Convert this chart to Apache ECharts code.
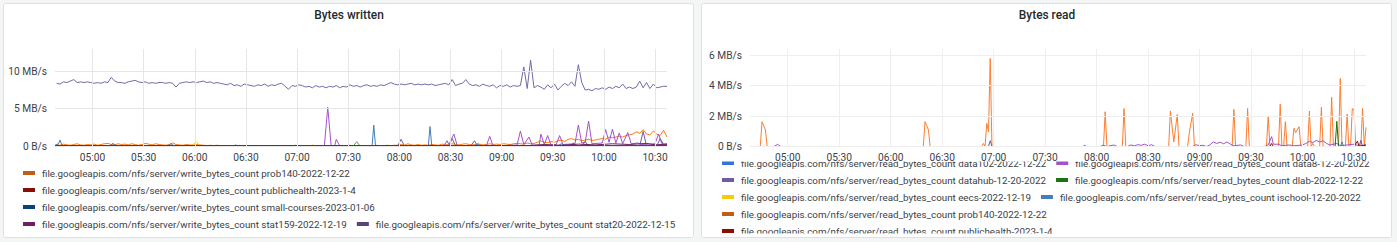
<!DOCTYPE html>
<html><head><meta charset="utf-8">
<script src="https://cdn.jsdelivr.net/npm/echarts@6/dist/echarts.min.js"></script>
<style>html,body{margin:0;padding:0;background:#f4f5f5;}#c{width:1397px;height:242px;}</style>
</head><body><div id="c"></div>
<script>
// ---------- data ----------
const W = 'file.googleapis.com/nfs/server/write_bytes_count ';
const R = 'file.googleapis.com/nfs/server/read_bytes_count ';
const axisStart = '04:38', axisEnd = '10:37';
const regularStart = '04:39', regularStepMin = 2;
const xTickLabels = ['05:00','05:30','06:00','06:30','07:00','07:30','08:00','08:30','09:00','09:30','10:00','10:30'];
const writeTicks = [0, 5, 10];
const readTicks = [0, 2, 4, 6];

// stat20 write rate (MB/s), every 2 min from 04:39
const stat20Write = [
 8.4,8.3,8.6,8.5,8.7,8.9,8.5,8.6,8.5,8.6,
 8.5,8.4,8.5,8.4,8.6,8.5,9.2,8.7,8.5,8.5,
 8.4,8.6,8.7,8.8,8.6,8.5,8.6,8.4,8.5,8.4,
 8.5,8.5,8.4,8.5,8.4,7.9,8.4,8.5,8.6,8.5,
 8.6,8.5,8.6,8.7,8.5,8.6,8.4,8.5,8.4,8.3,
 8.2,8.4,8.1,8.2,8.0,8.3,8.2,8.1,8.0,8.2,
 8.1,8.3,8.0,8.2,8.1,8.3,8.4,8.0,7.6,8.1,
 8.0,8.2,8.1,7.9,8.0,7.8,8.1,7.9,8.0,7.8,
 8.0,7.9,8.1,7.8,8.0,7.9,8.2,8.0,8.1,7.9,
 8.1,8.2,8.0,8.1,8.0,8.2,8.1,8.3,8.5,8.3,
 8.2,8.3,8.2,8.3,8.4,8.2,8.3,8.2,8.3,8.2,
 8.3,8.1,8.2,8.3,8.4,8.2,8.9,8.1,8.3,8.4,
 8.9,8.3,8.1,8.2,8.0,8.3,8.1,8.0,8.2,7.8,
 8.1,8.0,8.2,7.9,8.1,8.0,8.1,10.6,7.7,11.5,
 7.8,8.1,7.9,7.6,8.2,7.8,8.3,7.5,8.0,8.4,
 8.1,8.6,8.0,10.9,8.5,7.5,7.6,7.4,7.7,7.6,
 7.8,7.6,7.9,7.7,8.0,7.8,8.3,7.7,7.9,7.7,
 7.9,8.7,7.8,8.5,7.7,8.3,7.8,7.9,8.0,8.0
];
// orange write series (MB/s), every 2 min from 04:39
const orangeWrite = [
 0.2,0.1,0.25,0.15,0.1,0.2,0.3,0.15,0.1,0.2,0.15,0.25,0.1,0.2,0.3,0.35,0.2,0.15,0.3,0.2,
 0.25,0.15,0.3,0.2,0.1,0.2,0.35,0.25,0.15,0.3,0.2,0.15,0.1,0.2,0.4,0.2,0.15,0.1,0.2,0.15,
 0.1,0.2,0.15,0.1,0.05,0.1,0.05,0.1,0.05,0,0.05,0,0.05,0,0,0.05,0,0,0.05,0,
 0,0.05,0,0,0.05,0,0,0.05,0,0,0,0.05,0,0,0.05,0,0,0.05,0,0,
 0,0.05,0,0,0.05,0,0.1,0,0.05,0,0,0.05,0,0,0.1,0,0.05,0.1,0.05,0.1,
 0.1,0.2,0.1,0.3,0.15,0.1,0.2,0.1,0.15,0.1,0.2,0.15,0.1,0.25,0.2,0.15,0.3,0.2,0.15,0.25,
 0.3,0.2,0.15,0.2,0.25,0.15,0.2,0.3,0.2,0.25,0.2,0.3,0.25,0.2,0.3,0.35,0.3,0.25,0.4,0.3,
 0.35,0.5,0.7,0.5,0.45,0.6,0.5,0.7,0.8,0.6,0.9,1.0,0.8,0.9,0.7,0.8,0.9,0.75,0.8,0.9,
 1.0,0.9,1.2,1.1,1.2,1.3,1.2,1.4,1.5,1.6,1.9,1.7,2.2,1.6,1.5,2.0,1.6,1.4,2.1,1.2
];
const greenWrite = [['04:38',0],['07:33',0],['07:35',0.58],['07:37',0],['10:37',0]];
const eecsWrite = [['04:38',0],['05:57',0],['05:59',0.2],['06:01',0.55],['06:03',0],['06:58',0],['06:59',0.15],['07:00',0],['07:08',0],['07:09',0.15],['07:10',0],['08:29',0],['08:31',0.4],['08:33',0],['10:37',0]];
const ischoolWrite = [['04:38',0.1],['04:40',0.3],['04:41',0.8],['04:42',0.1],['04:44',0],['05:10',0],['05:12',0.35],['05:14',0],['05:44',0],['05:46',0.3],['05:48',0],['06:23',0],['06:24',0.15],['06:25',0],['07:44',0],['07:45',2.8],['07:46',0],['08:17',0],['08:18',2.6],['08:19',0],['08:44',0],['08:46',0.3],['08:48',0],['09:33',0],['09:35',0.3],['09:37',0],['10:37',0]];
const data8Write = [['04:38',0],['07:16',0],['07:18',5.2],['07:20',0],['07:22',0],['07:23',0.9],['07:25',0],
 ['08:26',0],['08:28',0.7],['08:29',0.2],['08:32',1.6],['08:34',0],['08:51',0],['08:53',1.3],['08:55',0],
 ['09:09',0.1],['09:11',2.0],['09:13',0.2],['09:16',1.2],['09:18',0.1],['09:22',0.1],['09:23',1.6],['09:25',0.2],['09:27',1.4],['09:29',0.1],
 ['09:32',0.2],['09:34',1.4],['09:36',0.2],['09:43',0.3],['09:45',2.8],['09:47',0.4],['09:49',0.5],['09:51',3.35],['09:53',0.3],
 ['09:59',0.4],['10:01',2.2],['10:03',0.5],['10:05',2.25],['10:07',0.4],['10:09',1.75],['10:11',0.3],['10:14',1.8],['10:16',0.3],
 ['10:20',0.4],['10:22',0.2],['10:30',0.3],['10:32',1.6],['10:34',0.3],['10:37',0.2]];
const datahubWrite = [['04:38',0],['07:59',0],['08:01',0.9],['08:03',0],['08:29',0],['08:31',1.0],['08:33',0],['08:42',0],['08:44',0.7],['08:46',0],['09:40',0],['09:42',0.4],['09:44',0],['09:47',0],['09:49',0.6],['09:51',0],['10:21',0],['10:23',1.95],['10:25',0],['10:31',0],['10:33',1.0],['10:35',0.2],['10:37',0.3]];
const prob140Write = [['04:38',0],['10:37',0]];
const publichealthWrite = [['04:38',0],['10:37',0]];
const smallCoursesWrite = [['04:38',0],['10:37',0]];
const stat159Write = [['04:38',0],['08:58',0],['09:05',0.1],['09:15',0.05],['09:25',0.2],['09:35',0.1],['09:45',0.25],['09:55',0.15],['10:05',0.3],['10:15',0.2],['10:25',0.35],['10:30',0.15],['10:37',0.25]];

const orangeRead = [['04:38',0],['04:44',0],['04:45',1.63],['04:47',1.08],['04:48',0],
 ['06:19',0],['06:20',1.63],['06:22',1.08],['06:23',0],
 ['06:53',0],['06:54',0.2],['06:55',0],['06:56',1.52],['06:57',0.97],['06:58',5.78],['06:59',0],
 ['08:04',0],['08:05',2.28],['08:06',0],['08:15',0],['08:16',2.5],['08:17',0],
 ['08:42',0],['08:43',2.33],['08:45',0.3],['08:47',2.1],['08:48',0],
 ['08:53',0],['08:54',0.87],['08:56',2.18],['08:57',0],
 ['09:19',0],['09:20',2.44],['09:21',0],['09:27',0],['09:28',2.5],['09:29',0],
 ['09:39',0],['09:40',2.0],['09:41',0],['09:46',0],['09:47',2.77],['09:48',0],['09:49',0],['09:50',1.63],['09:51',0],
 ['09:54',0],['09:55',1.2],['09:56',0.9],['09:58',1.3],['09:59',0],
 ['10:03',0],['10:04',2.33],['10:05',0],['10:06',0.2],['10:07',0],
 ['10:10',0],['10:11',2.57],['10:12',0],['10:16',0],['10:17',3.23],['10:18',0],
 ['10:21',0],['10:22',4.47],['10:23',0],['10:25',0],['10:26',2.13],['10:27',0],
 ['10:28',0],['10:29',2.5],['10:30',2.4],['10:31',0],['10:34',0],['10:35',2.5],['10:36',0],['10:37',1.26]];
const data102Read = [['04:38',0],['10:37',0]];
const data8Read = [['04:38',0],['04:52',0],['04:54',0.14],['04:56',0],['08:02',0],['08:04',0.08],['08:06',0],['08:10',0.1],['08:12',0],
 ['08:18',0],['08:20',0.1],['08:22',0.05],['08:24',0.12],['08:26',0.08],['08:28',0.15],['08:30',0.05],['08:32',0.12],['08:34',0],
 ['08:56',0],['08:58',0.12],['09:00',0.05],['09:02',0.08],['09:04',0],['09:06',0.1],['09:08',0.3],['09:10',0.2],['09:12',0.28],['09:14',0.18],['09:16',0.3],['09:18',0.15],['09:20',0.05],
 ['09:24',0.1],['09:26',0],['09:38',0],['09:40',0.1],['09:42',0.65],['09:43',0.15],['09:46',0.15],['09:48',0.05],['09:52',0.1],['09:55',0.05],
 ['10:00',0.1],['10:02',0.2],['10:04',0.35],['10:06',0.25],['10:08',0.4],['10:10',0.3],['10:12',0.38],['10:14',0.2],['10:16',0.1],
 ['10:20',0.2],['10:22',0.05],['10:26',0.1],['10:30',0.15],['10:33',0.05],['10:37',0.1]];
const datahubRead = [['04:38',0],['06:57',0],['06:58',0.38],['06:59',0],['10:33',0],['10:34',0.4],['10:35',0],['10:37',0]];
const dlabRead = [['04:38',0],['10:19',0],['10:20',1.65],['10:21',0],['10:37',0]];
const eecsRead = [['04:38',0],['10:37',0]];
const ischoolRead = [['04:38',0],['07:52',0],['07:53',0.08],['07:54',0],['10:22',0],['10:23',0.3],['10:24',0],['10:37',0]];
const prob140Read = [['04:38',0],['10:37',0]];
const publichealthRead = [['04:38',0],['09:41',0],['09:42',0.2],['09:43',0],['10:30',0],['10:32',0.35],['10:33',0],['10:37',0.1]];
const smallCoursesRead = [['04:38',0],['10:37',0]];
const stat159Read = [['04:38',0],['10:37',0]];
const stat20Read = [['04:38',0],['10:37',0]];

// ---------- helpers ----------
function t(hm){const p=hm.split(':').map(Number);return new Date(2023,0,10,p[0],p[1]).getTime();}
function regular(vals){const t0=t(regularStart);return vals.map((v,i)=>[t0+i*regularStepMin*60000,v]);}
function sparse(arr){return arr.map(d=>[t(d[0]),d[1]]);}
function pad(n){return (n<10?'0':'')+n;}

const COL = {green:'#56A64B',orange:'#FF780A',data102:'#3274D9',data8:'#A352CC',datahub:'#705DA0',dlab:'#19730E',eecs:'#F2CC0C',
  ischool:'#447EBC',prob140:'#C15C17',publichealth:'#890F02',small:'#0A437C',stat159:'#6D1F62',stat20:'#584477'};

function line(name, data, color, g, strokeColor){
  return {type:'line', name, data, color, xAxisIndex:g, yAxisIndex:g, showSymbol:false, symbol:'none',
    lineStyle:{width:1, color: strokeColor || color}, itemStyle:{color}, emphasis:{disabled:true}, animation:false, z:2};
}

const series = [
  line(W+'series-1', sparse(greenWrite), COL.green, 0),
  line(W+'series-4', regular(orangeWrite), COL.orange, 0),
  line(W+'data8-12-20-2022', sparse(data8Write), COL.data8, 0),
  line(W+'datahub-12-20-2022', sparse(datahubWrite), COL.datahub, 0),
  line(W+'eecs-2022-12-19', sparse(eecsWrite), COL.eecs, 0),
  line(W+'ischool-12-20-2022', sparse(ischoolWrite), COL.ischool, 0),
  line(W+'prob140-2022-12-22', sparse(prob140Write), COL.prob140, 0),
  line(W+'publichealth-2023-1-4', sparse(publichealthWrite), COL.publichealth, 0),
  line(W+'small-courses-2023-01-06', sparse(smallCoursesWrite), COL.small, 0),
  line(W+'stat159-2022-12-19', sparse(stat159Write), COL.stat159, 0),
  line(W+'stat20-2022-12-15', regular(stat20Write), COL.stat20, 0, '#7668a6'),

  line(R+'series-4', sparse(orangeRead), COL.orange, 1, '#ff7d2e'),
  line(R+'data102-2022-12-22', sparse(data102Read), COL.data102, 1),
  line(R+'data8-12-20-2022', sparse(data8Read), COL.data8, 1),
  line(R+'datahub-12-20-2022', sparse(datahubRead), COL.datahub, 1),
  line(R+'dlab-2022-12-22', sparse(dlabRead), COL.dlab, 1),
  line(R+'eecs-2022-12-19', sparse(eecsRead), COL.eecs, 1),
  line(R+'ischool-12-20-2022', sparse(ischoolRead), COL.ischool, 1),
  line(R+'prob140-2022-12-22', sparse(prob140Read), COL.prob140, 1),
  line(R+'publichealth-2023-1-4', sparse(publichealthRead), COL.publichealth, 1),
  line(R+'small-courses-2023-01-06', sparse(smallCoursesRead), COL.small, 1),
  line(R+'stat159-2022-12-19', sparse(stat159Read), COL.stat159, 1),
  line(R+'stat20-2022-12-15', sparse(stat20Read), COL.stat20, 1)
];

const FONT = 'Roboto';
const labelColor = '#3d4248';
const xTickValues = xTickLabels.map(t);
function xAx(g){
  return {type:'value', gridIndex:g, min:t(axisStart), max:t(axisEnd),
    axisLine:{show:false}, axisTick:{show:false, customValues:xTickValues},
    splitLine:{show:true, lineStyle:{color: g===0?'#e6e6e6':'#eeeeee', width:1}},
    axisLabel:{fontSize:10.2, fontFamily:FONT, color:labelColor, margin:6, customValues:xTickValues,
      formatter:v=>{const d=new Date(v);return pad(d.getHours())+':'+pad(d.getMinutes());}},
    z:10};
}
function yAx(g, ticks, max){
  const step = ticks[1]-ticks[0];
  return {type:'value', gridIndex:g, min:0, max, interval:step,
    axisLine:{show:false}, axisTick:{show:false},
    splitLine:{show:true, showMaxLine:false, lineStyle:{color: g===0?'#e6e6e6':'#eeeeee', width:1}},
    axisLabel:{fontSize:10.2, fontFamily:FONT, color:labelColor, margin:8, showMaxLabel:false,
      formatter:v=>ticks.indexOf(v)<0?'':(v===0?'0 B/s':v+' MB/s')},
    z:10};
}
function lg(names, left, top){
  return {data:names, left, top, orient:'horizontal', itemWidth:12, itemHeight:4, icon:'rect', itemGap:10, padding:0,
    selectedMode:false, z:4,
    textStyle:{fontSize:9.8, fontFamily:FONT, color:'#3b4047', padding:[0,0,0,2], lineHeight:12}};
}

const option = {
  backgroundColor:'#f4f5f5',
  animation:false,
  grid:[{left:55, top:49, width:612, height:97}, {left:750, top:49, width:616, height:97.5}],
  xAxis:[xAx(0), xAx(1)],
  yAxis:[yAx(0, writeTicks, 13), yAx(1, readTicks, 6.4)],
  legend:[
    lg([W+'prob140-2022-12-22'], 23, 167),
    lg([W+'publichealth-2023-1-4'], 23, 184),
    lg([W+'small-courses-2023-01-06'], 23, 201),
    lg([W+'stat159-2022-12-19', W+'stat20-2022-12-15'], 23, 218),
    lg([R+'data102-2022-12-22', R+'data8-12-20-2022'], 722, 157),
    lg([R+'datahub-12-20-2022', R+'dlab-2022-12-22'], 722, 174),
    lg([R+'eecs-2022-12-19', R+'ischool-12-20-2022'], 722, 191),
    lg([R+'prob140-2022-12-22'], 722, 208),
    lg([R+'publichealth-2023-1-4'], 722, 225)
  ],
  graphic:[
    {type:'rect', shape:{x:3.5,y:3.5,width:690,height:234,r:2}, style:{fill:'#ffffff', stroke:'#dfe0e2', lineWidth:1}, z:-1, silent:true},
    {type:'rect', shape:{x:701.5,y:3.5,width:690,height:234,r:2}, style:{fill:'#ffffff', stroke:'#dfe0e2', lineWidth:1}, z:-1, silent:true},
    {type:'rect', shape:{x:703,y:148,width:687,height:13.5}, style:{fill:'#ffffff'}, z:6, silent:true},
    {type:'rect', shape:{x:703,y:233.5,width:687,height:3.5}, style:{fill:'#ffffff'}, z:6, silent:true},
    {type:'text', x:349, y:15, style:{text:'Bytes written', align:'center', verticalAlign:'middle', fontSize:11.9, fontWeight:500, fontFamily:FONT, fill:'#24292e'}, z:5},
    {type:'text', x:1047, y:15, style:{text:'Bytes read', align:'center', verticalAlign:'middle', fontSize:11.9, fontWeight:500, fontFamily:FONT, fill:'#24292e'}, z:5}
  ],
  series
};
const chart = echarts.init(document.getElementById('c'), null, {renderer:'svg', width:1397, height:242});
chart.setOption(option);
</script></body></html>
